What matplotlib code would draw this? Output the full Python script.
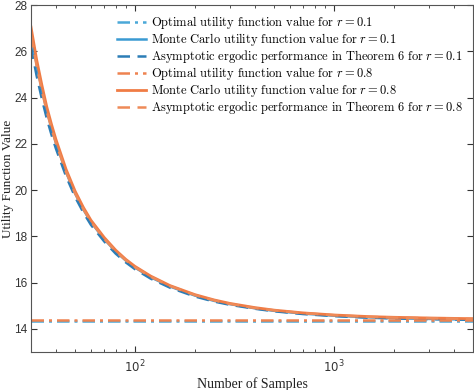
import matplotlib
matplotlib.use("Agg")
import matplotlib.pyplot as plt
from matplotlib.ticker import LogLocator, NullFormatter, FixedLocator

plt.rcParams['mathtext.fontset'] = 'cm'

# ---- data ----
samples = [30, 32, 34, 36, 38, 40, 45, 50, 55, 60, 70, 80, 90, 100, 120, 150,
           200, 250, 300, 400, 500, 700, 1000, 1500, 2000, 3000, 5000]
mc_r08 = [27.05, 25.65, 24.55, 23.6, 22.85, 22.2, 20.9, 19.95, 19.25, 18.7, 17.95,
          17.4, 17.0, 16.7, 16.28, 15.87, 15.48, 15.25, 15.1, 14.92, 14.81, 14.69,
          14.6, 14.53, 14.5, 14.47, 14.44]
mc_r01 = [26.8, 25.45, 24.35, 23.45, 22.7, 22.05, 20.78, 19.85, 19.16, 18.62, 17.88,
          17.34, 16.95, 16.65, 16.23, 15.83, 15.44, 15.21, 15.07, 14.89, 14.78, 14.66,
          14.57, 14.5, 14.46, 14.43, 14.40]
asym_r01 = [26.2, 24.95, 23.95, 23.1, 22.4, 21.8, 20.6, 19.7, 19.03, 18.5, 17.78,
            17.25, 16.87, 16.58, 16.17, 15.78, 15.4, 15.18, 15.04, 14.87, 14.76, 14.64,
            14.55, 14.48, 14.45, 14.42, 14.39]
asym_r08 = [26.7, 25.38, 24.3, 23.4, 22.67, 22.04, 20.78, 19.85, 19.17, 18.63, 17.89,
            17.35, 16.96, 16.66, 16.25, 15.85, 15.46, 15.23, 15.08, 14.9, 14.8, 14.68,
            14.59, 14.52, 14.49, 14.46, 14.43]
opt_r01 = 14.36
opt_r08 = 14.40
y_ticks = [14, 16, 18, 20, 22, 24, 26, 28]

labels = [
    r"$\mathrm{Optimal\ utility\ function\ value\ for\ }r=0.1$",
    r"$\mathrm{Monte\ Carlo\ utility\ function\ value\ for\ }r=0.1$",
    r"$\mathrm{Asymptotic\ ergodic\ performance\ in\ Theorem\ 6\ for\ }r=0.1$",
    r"$\mathrm{Optimal\ utility\ function\ value\ for\ }r=0.8$",
    r"$\mathrm{Monte\ Carlo\ utility\ function\ value\ for\ }r=0.8$",
    r"$\mathrm{Asymptotic\ ergodic\ performance\ in\ Theorem\ 6\ for\ }r=0.8$",
]

blue_dd = '#4AA8D8'
blue_s = '#3B9AD2'
blue_d = '#2C7DB6'
org_dd = '#EE8350'
org_s = '#F07C45'
org_d = '#EE8A58'

fig = plt.figure(figsize=(4.74, 3.90), dpi=100)
ax = fig.add_axes([31/474, 1-352/390, 442/474, 347/390])

ax.plot([samples[0], samples[-1]], [opt_r01, opt_r01], color=blue_dd, lw=1.8,
        ls=(0, (5, 2, 1.2, 2)), label=labels[0])
ax.plot(samples, mc_r01, color=blue_s, lw=1.8, label=labels[1])
ax.plot(samples, asym_r01, color=blue_d, lw=1.8, ls=(0, (5, 3)), label=labels[2])
ax.plot([samples[0], samples[-1]], [opt_r08, opt_r08], color=org_dd, lw=1.8,
        ls=(0, (5, 2, 1.2, 2)), label=labels[3])
ax.plot(samples, mc_r08, color=org_s, lw=2.0, label=labels[4])
ax.plot(samples, asym_r08, color=org_d, lw=1.8, ls=(0, (5, 3)), label=labels[5])

ax.set_xscale('log')
ax.set_xlim(30, 5000)
ax.set_ylim(13, 28)
ax.yaxis.set_major_locator(FixedLocator(y_ticks))
ax.xaxis.set_major_locator(LogLocator(base=10))
ax.xaxis.set_minor_locator(LogLocator(base=10, subs=range(2, 10)))
ax.xaxis.set_minor_formatter(NullFormatter())

for sp in ax.spines.values():
    sp.set_color('#555555')
    sp.set_linewidth(0.8)
ax.tick_params(which='both', direction='in', top=True, right=True,
               colors='#333333', labelsize=8.5)
ax.tick_params(which='major', length=4)
ax.tick_params(which='minor', length=2.5)
ax.tick_params(axis='y', pad=2.5)
ax.tick_params(axis='x', pad=5)
for lab in ax.get_yticklabels():
    lab.set_family('Liberation Sans')

ax.set_xlabel('Number of Samples', family='Liberation Serif', fontsize=10,
              color='#222222', labelpad=1)
ax.set_ylabel('Utility Function Value', family='Liberation Serif', fontsize=9.5,
              color='#222222', labelpad=0.5)

leg = ax.legend(loc='upper left', bbox_to_anchor=(117/474, 1-14/390),
                bbox_transform=fig.transFigure, frameon=False,
                fontsize=9, handlelength=2.3, handletextpad=0.4,
                labelspacing=0.0, borderaxespad=0, borderpad=0)

fig.savefig('out.png', dpi=100)
